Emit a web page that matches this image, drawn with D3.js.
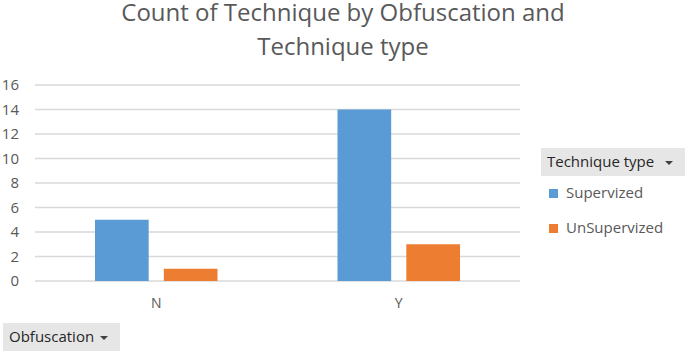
<!DOCTYPE html>
<html>
<head>
<meta charset="utf-8">
<script src="https://cdn.jsdelivr.net/npm/d3@7"></script>
<style>
  body { margin: 0; background: #fff; }
  svg { font-family: "Open Sans", "Noto Sans", sans-serif; }
</style>
</head>
<body>
<svg id="chart" width="685" height="353"></svg>
<script>
// data
let categories = ['N', 'Y'];
let seriesNames = ['Supervized', 'UnSupervized'];
let supervized = [5, 14];
let unsupervized = [1, 3];
let yTicks = [0, 2, 4, 6, 8, 10, 12, 14, 16];

let colors = ['#5b9bd5', '#ed7d31'];
let textColor = '#595959';

let svg = d3.select('#chart');

let plotLeft = 35;
let plotRight = 520;
let plotTop = 85;
let plotBottom = 281;

let xScale = d3.scaleBand()
  .domain(categories)
  .range([plotLeft, plotRight]);

let inner = d3.scaleBand()
  .domain(seriesNames)
  .range([60, xScale.bandwidth() - 60])
  .paddingInner(0.22);

let yScale = d3.scaleLinear()
  .domain([0, 16])
  .range([plotBottom, plotTop]);

// gridlines
svg.append('g')
  .selectAll('line')
  .data(yTicks)
  .enter()
  .append('line')
  .attr('x1', plotLeft)
  .attr('x2', plotRight)
  .attr('y1', d => yScale(d))
  .attr('y2', d => yScale(d))
  .attr('stroke', '#d9d9d9')
  .attr('stroke-width', 1.3);

// y axis labels
let yAxis = svg.append('g')
  .attr('transform', 'translate(' + (plotLeft - 16) + ',0)')
  .call(d3.axisLeft(yScale).tickValues(yTicks).tickSize(0).tickPadding(0));
yAxis.select('.domain').remove();
yAxis.selectAll('text')
  .attr('fill', textColor)
  .style('font-size', '15px')
  .style('font-family', '"Open Sans", sans-serif');

// x axis labels
let xAxis = svg.append('g')
  .attr('transform', 'translate(0,' + (plotBottom + 17) + ')')
  .call(d3.axisBottom(xScale).tickSize(0).tickPadding(0));
xAxis.select('.domain').remove();
xAxis.selectAll('text')
  .attr('fill', textColor)
  .style('font-size', '14px')
  .style('font-family', '"Open Sans", sans-serif');

// bars
let rows = categories.map((c, i) => ({
  cat: c,
  values: [supervized[i], unsupervized[i]]
}));

let groups = svg.selectAll('.grp')
  .data(rows)
  .enter()
  .append('g')
  .attr('class', 'grp')
  .attr('transform', d => 'translate(' + xScale(d.cat) + ',0)');

groups.selectAll('rect')
  .data(d => d.values.map((v, j) => ({ name: seriesNames[j], value: v, idx: j })))
  .enter()
  .append('rect')
  .attr('x', d => inner(d.name))
  .attr('width', inner.bandwidth())
  .attr('y', d => yScale(d.value))
  .attr('height', d => yScale(0) - yScale(d.value))
  .attr('fill', d => colors[d.idx]);

// title
let title = svg.append('text')
  .attr('text-anchor', 'middle')
  .attr('fill', textColor)
  .style('font-size', '24px');
title.append('tspan').attr('x', 343).attr('y', 21).text('Count of Technique by Obfuscation and');
title.append('tspan').attr('x', 343).attr('y', 55).text('Technique type');

// pivot field buttons
let drawButton = (x, y, w, h, label) => {
  let g = svg.append('g').attr('transform', 'translate(' + x + ',' + y + ')');
  g.append('rect')
    .attr('width', w)
    .attr('height', h)
    .attr('fill', '#e6e6e6');
  g.append('text')
    .attr('x', 6)
    .attr('y', h / 2 + 5)
    .attr('fill', '#262626')
    .style('font-size', '15px')
    .text(label);
  g.append('path')
    .attr('d', 'M' + (w - 20) + ',' + (h / 2 - 1) + 'h8l-4,4z')
    .attr('fill', '#404040');
};

drawButton(541, 148, 144, 28, 'Technique type');
drawButton(3, 323, 117, 28, 'Obfuscation');

// legend
let legend = svg.selectAll('.leg')
  .data(seriesNames)
  .enter()
  .append('g')
  .attr('class', 'leg')
  .attr('transform', (d, i) => 'translate(549,' + (195 + i * 35) + ')');

legend.append('rect')
  .attr('x', 0)
  .attr('y', -6)
  .attr('width', 9)
  .attr('height', 9)
  .attr('fill', (d, i) => colors[i]);

legend.append('text')
  .attr('x', 17)
  .attr('y', 3)
  .attr('fill', textColor)
  .style('font-size', '15px')
  .text(d => d);
</script>
</body>
</html>
